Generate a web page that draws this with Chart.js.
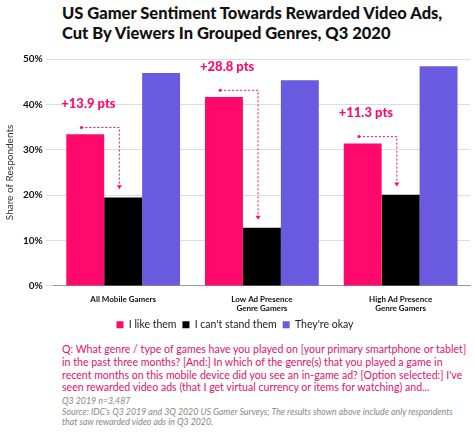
<!DOCTYPE html>
<html><head><meta charset="utf-8">
<script src="https://cdn.jsdelivr.net/npm/chart.js@4/dist/chart.umd.min.js"></script>
<style>
body{margin:0;background:#fff;font-family:Lato,"Open Sans",sans-serif;width:474px;}
h1{font-family:Lato,sans-serif;font-weight:900;font-size:16.5px;line-height:20px;margin:0;padding:3px 0 0 62px;color:#111;}
#wrap{position:relative;width:474px;height:297px;}
.q{color:#e8106e;font-size:10.6px;line-height:12.8px;margin:3px 6px 0 62px;}
.s{color:#888;font-style:italic;font-size:8.8px;line-height:10.5px;margin:2px 6px 0 62px;}
</style></head><body>
<h1>US Gamer Sentiment Towards Rewarded Video Ads,<br>Cut By Viewers In Grouped Genres, Q3 2020</h1>
<div id="wrap"><canvas id="c"></canvas></div>
<div class="q">Q: What genre / type of games have you played on [your primary smartphone or tablet] in the past three months? [And:] In which of the genre(s) that you played a game in recent months on this mobile device did you see an in-game ad? [Option selected:] I've seen rewarded video ads (that I get virtual currency or items for watching) and...</div>
<div class="s">Q3 2019 n=3,487<br>Source: IDC's Q3 2019 and 3Q 2020 US Gamer Surveys; The results shown above include only respondents that saw rewarded video ads in Q3 2020.</div>
<script>
const categories=[["All Mobile Gamers"],["Low Ad Presence","Genre Gamers"],["High Ad Presence","Genre Gamers"]];
const likeThem=[33.4,41.6,31.4];
const cantStand=[19.5,12.8,20.1];
const okay=[46.9,45.3,48.4];
const diffLabels=["+13.9 pts","+28.8 pts","+11.3 pts"];
const PINK="#ff0a6c",BLACK="#000",PURP="#6a5ae0";
const ann={id:"ann",afterDatasetsDraw(ch){
 const c=ch.ctx,y=ch.scales.y,m0=ch.getDatasetMeta(0),m1=ch.getDatasetMeta(1);
 c.save();
 for(let i=0;i<3;i++){
  const b0=m0.data[i],b1=m1.data[i];
  const top=y.getPixelForValue(likeThem[i]+1.5);
  const x0=b0.x-b0.width*0.1,x1=b1.x-b1.width*0.1;
  const yb=y.getPixelForValue(cantStand[i]+2);
  c.strokeStyle=PINK;c.fillStyle=PINK;c.lineWidth=1;c.setLineDash([2,2]);
  c.beginPath();c.moveTo(x0,top);c.lineTo(x1,top);c.lineTo(x1,yb);c.stroke();
  c.setLineDash([]);
  c.beginPath();c.arc(x0,top,1.5,0,7);c.fill();
  c.beginPath();c.moveTo(x1-2.5,yb-3);c.lineTo(x1+2.5,yb-3);c.lineTo(x1,yb+1);c.fill();
  c.font="900 13px Lato";c.textAlign="left";c.textBaseline="bottom";
  c.fillText(diffLabels[i],b0.x-b0.width/2-5,top-17);
 }
 c.restore();}};
new Chart(document.getElementById("c"),{type:"bar",
 data:{labels:categories,datasets:[
  {label:"I like them",data:likeThem,backgroundColor:PINK},
  {label:"I can't stand them",data:cantStand,backgroundColor:BLACK},
  {label:"They're okay",data:okay,backgroundColor:PURP}]},
 options:{responsive:true,maintainAspectRatio:false,animation:false,
  layout:{padding:{left:0,right:4,top:16,bottom:0}},
  datasets:{bar:{categoryPercentage:0.82,barPercentage:1}},
  plugins:{legend:{position:"bottom",labels:{boxWidth:7,boxHeight:7,color:"#222",font:{size:10.5,family:"Lato"},padding:6}},tooltip:{enabled:false}},
  scales:{x:{grid:{display:false},border:{color:"#999"},ticks:{padding:1,color:"#111",font:{size:8,weight:"bold",family:"Lato",lineHeight:1.1},maxRotation:0}},
   y:{min:0,max:50,grid:{color:"#ddd"},border:{display:false},
    ticks:{stepSize:10,color:"#111",font:{size:10,weight:"bold",family:"Lato"},callback:v=>v+"%"},
    title:{display:true,text:"Share of Respondents",color:"#333",font:{size:10,family:"Lato"}}}}},
 plugins:[ann]});
</script></body></html>
